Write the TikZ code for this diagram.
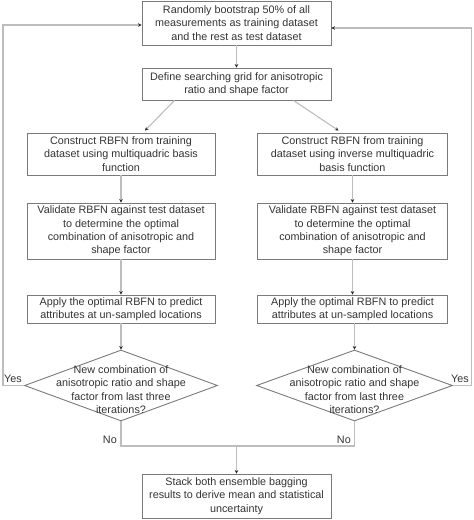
\documentclass[tikz,border=0pt]{standalone}
\usepackage{fontspec}
\setmainfont{Liberation Sans}
\usetikzlibrary{arrows.meta,shapes.geometric,calc}
\definecolor{txt}{HTML}{333333}
\definecolor{boxc}{HTML}{7A7A7A}
\definecolor{linec}{HTML}{BDBDBD}
\begin{document}
\begin{tikzpicture}[x=1pt,y=-1pt,
  every node/.style={font=\fontsize{10.8}{13.4}\selectfont, text=txt},
  pbox/.style={draw=boxc, line width=0.9pt, align=center, inner sep=0pt, minimum width=#1},
  pbox/.default=189pt,
  dia/.style={draw=boxc, line width=0.9pt, diamond, minimum width=#1, minimum height=71pt, inner sep=0pt},
  dtext/.style={align=center, inner sep=0pt},
  conn/.style={draw=linec, line width=1.1pt},
  arr/.style={conn, -{Stealth[length=3.5pt,width=3.5pt,color=black!85]}},
  lbl/.style={inner sep=0pt}
]
\useasboundingbox (0,0) rectangle (474,520);
% boxes
\node[pbox, minimum height=44pt] (top) at (236.5,23) {Randomly bootstrap 50\% of all\\measurements as training dataset\\and the rest as test dataset};
\node[pbox, minimum height=32pt] (def) at (236.5,84) {Define searching grid for anisotropic\\ratio and shape factor};
\node[pbox=188pt, minimum height=42pt] (cL) at (121,154) {Construct RBFN from training\\dataset using multiquadric basis\\function};
\node[pbox=190pt, minimum height=42pt] (cR) at (352.5,154) {Construct RBFN from training\\dataset using inverse multiquadric\\basis function};
\node[pbox=188pt, minimum height=56pt] (vL) at (121,231) {Validate RBFN against test dataset\\to determine the optimal\\combination of anisotropic and\\shape factor};
\node[pbox=190pt, minimum height=56pt] (vR) at (352.5,231) {Validate RBFN against test dataset\\to determine the optimal\\combination of anisotropic and\\shape factor};
\node[pbox=188pt, minimum height=28pt] (aL) at (121,309) {Apply the optimal RBFN to predict\\attributes at un-sampled locations};
\node[pbox=190pt, minimum height=28pt] (aR) at (352.5,309) {Apply the optimal RBFN to predict\\attributes at un-sampled locations};
\node[dia=193pt] (dL) at (121,385.5) {};
\node[dia=196pt] (dR) at (354.5,385.5) {};
\node[dtext] (dLt) at (121,389.5) {New combination of\\anisotropic ratio and shape\\factor from last three\\iterations?};
\node[dtext] (dRt) at (354.5,389.5) {New combination of\\anisotropic ratio and shape\\factor from last three\\iterations?};
\node[pbox, minimum height=44pt] (st) at (236.5,496) {Stack both ensemble bagging\\results to derive mean and statistical\\uncertainty};
% connectors
\draw[arr] (top.south) -- (def.north);
\draw[arr] ($(def.south)+(-62,0)$) -- ($(cL.north)+(24,-2)$);
\draw[arr] ($(def.south)+(57,0)$) -- ($(cR.north)+(-14,-2)$);
\draw[arr] (cL) -- (vL);
\draw[arr] (cR.south -| aR.north) -- (vR.north -| aR.north);
\draw[arr] (vL) -- (aL);
\draw[arr] (vR.south -| aR.north) -- (aR.north);
\draw[arr] (aL.south) -- (dL.north);
\draw[arr] (aR.south -| dR.north) -- (dR.north);
% yes loops
\coordinate (yl) at (3,385.5);
\coordinate (yr) at (471.5,385.5);
\draw[arr] (dL.west) -- (yl) |- ($(top.west)+(0,2)$);
\draw[arr] (dR.east) -- (yr) |- ($(top.east)+(0,5)$);
\node[lbl, anchor=south west] (yesL) at (4,383) {Yes};
\node[lbl, anchor=south east] (yesR) at (469,383) {Yes};
% no
\coordinate (nl) at (121,446);
\coordinate (nr) at (354.5,446);
\coordinate (nm) at (236.5,446);
\draw[conn] (dL.south) -- (nl) -- (nr) -- (dR.south);
\draw[arr] (nm) -- (st.north);
\node[lbl, anchor=south east] (noL) at (117,444) {No};
\node[lbl, anchor=south east] (noR) at (351,444) {No};
\end{tikzpicture}
\end{document}
